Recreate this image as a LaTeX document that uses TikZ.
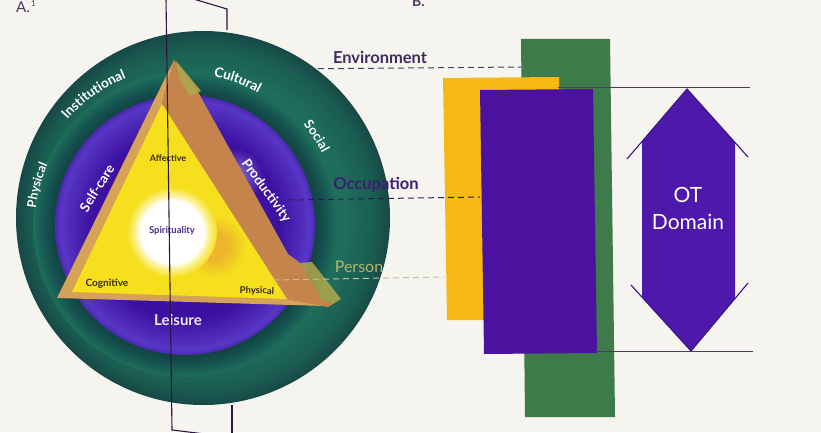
\documentclass[tikz,border=0pt]{standalone}
\usepackage{fontspec}
\newfontfamily\lato{Lato}
\usetikzlibrary{decorations.text}
\definecolor{bg}{HTML}{F5F4EE}
\definecolor{gring}{HTML}{1F6E5B}
\definecolor{gring2}{HTML}{1A5C52}
\definecolor{grim}{HTML}{174845}
\definecolor{gband}{HTML}{124442}
\definecolor{gband2}{HTML}{155250}
\definecolor{pcen}{HTML}{3C10A0}
\definecolor{pedge}{HTML}{5836C6}
\definecolor{pdark}{HTML}{4A28B0}
\definecolor{pglowc}{HTML}{9C88E8}
\definecolor{tanc}{HTML}{D6A258}
\definecolor{barc}{HTML}{C4844C}
\definecolor{olivec}{HTML}{B1A84C}
\definecolor{triyel}{HTML}{F6E01E}
\definecolor{blobc}{HTML}{EDB52C}
\definecolor{rgreen}{HTML}{3E7B4A}
\definecolor{ryellow}{HTML}{F6B914}
\definecolor{rpurple}{HTML}{4B12A0}
\definecolor{apurple}{HTML}{4E18AA}
\definecolor{barbc}{HTML}{3B1585}
\definecolor{cutc}{HTML}{2A1840}
\definecolor{envc}{HTML}{3D3060}
\definecolor{occc}{HTML}{3C1D72}
\definecolor{perc}{HTML}{B4B46C}
\definecolor{perdash}{HTML}{C4C0A2}
\definecolor{tritext}{HTML}{3A2A14}
\definecolor{spirc}{HTML}{4B2A90}
\definecolor{leisc}{HTML}{ECE6FA}
\definecolor{labc}{HTML}{4A3A6A}
\pgfdeclareradialshading{gdisc}{\pgfpoint{0bp}{0bp}}{color(0bp)=(gring); color(19bp)=(gring); color(23bp)=(gring2); color(25bp)=(grim); color(50bp)=(grim)}
\pgfdeclareradialshading{gbandsh}{\pgfpoint{0bp}{0bp}}{color(0bp)=(gband); color(21.5bp)=(gband); color(23bp)=(gband2); color(25bp)=(gring); color(50bp)=(gring)}
\pgfdeclareradialshading{pdisc}{\pgfpoint{0bp}{0bp}}{color(0bp)=(pcen); color(18bp)=(pcen); color(24bp)=(pedge); color(25bp)=(pdark); color(50bp)=(pdark)}
\pgfdeclareradialshading{pglow}{\pgfpoint{0bp}{0bp}}{color(0bp)=(pglowc); color(25bp)=(pcen); color(50bp)=(pcen)}
\pgfdeclareradialshading{spir}{\pgfpoint{0bp}{0bp}}{color(0bp)=(white); color(17.5bp)=(white); color(20bp)=(white!60!triyel); color(25bp)=(triyel); color(50bp)=(triyel)}
\pgfdeclareradialshading{blob}{\pgfpoint{0bp}{0bp}}{color(0bp)=(blobc); color(10bp)=(blobc); color(25bp)=(triyel); color(50bp)=(triyel)}
\tikzset{
  lbl/.style={font=\lato\bfseries\fontsize{#1}{#1}\selectfont, inner sep=0pt},
  arclabel/.style 2 args={decorate, decoration={text along path, text align=center, text color=white, text={|\lato\bfseries\fontsize{#1}{#1}\selectfont|#2}}},
  dashc/.style={dash pattern=on 6pt off 4pt, line width=1pt},
  cutline/.style={draw=cutc, line width=1.1pt},
  hline/.style={draw=cutc!85!white, line width=1pt},
  barb/.style={draw=barbc, line width=1.1pt},
}
\begin{document}
\begin{tikzpicture}[x=1pt,y=1pt]
\useasboundingbox (0,0) rectangle (821,432);
\clip (0,0) rectangle (821,432);
\fill[bg] (0,0) rectangle (821,432);

% ---------- A: circle model ----------
\shade[shading=gdisc] (203,214) circle[radius=187];
\shade[shading=gbandsh] (185,207) circle[radius=152];
\shade[shading=pdisc] (185,207) circle[radius=130];
\begin{scope}
  \clip (185,207) circle[radius=130];
  \shade[shading=pglow, opacity=0.8] (236,256) circle[radius=28];
\end{scope}

% triangle frame
\fill[tanc] (174,372) -- (57,134) -- (325,126) -- (287,133) -- (162,328) -- cycle;
\fill[barc] (174,372) -- (198,340) -- (288,178) -- (300,169) -- (322,132) -- (333,128) -- (328,125) -- (287,133) -- (162,328) -- cycle;
\fill[olivec, opacity=0.9] (176,371) -- (201,341) -- (190,336) -- (180,352) -- cycle;
\fill[olivec, opacity=0.85] (300,169) -- (312,170) -- (341,133) -- (333,128) -- (322,132) -- cycle;
\fill[triyel] (162,328) -- (72,140) -- (287,133) -- cycle;
\begin{scope}
  \clip (162,328) -- (72,140) -- (287,133) -- cycle;
  \shade[shading=blob] (214,186) circle[radius=32];
  \shade[shading=spir] (172,200) circle[radius=45];
\end{scope}

% ring labels
\path[arclabel={13.5}{Institutional}] ([shift={(185,207)}]152:158) arc[start angle=152, end angle=98, radius=158];
\path[arclabel={13.5}{Cultural}] ([shift={(185,207)}]92:151) arc[start angle=92, end angle=48, radius=151];
\path[arclabel={13}{Social}] ([shift={(185,207)}]56:155) arc[start angle=56, end angle=12, radius=155];
\path[arclabel={12.5}{Physical}] ([shift={(185,207)}]190:150) arc[start angle=190, end angle=140, radius=150];

\node[lbl=13.5, text=white, rotate=58] (selfcare) at (97,244) {Self-care};
\node[lbl=13.5, text=white, rotate=-54] (productivity) at (266,241) {Productivity};
\node[lbl=15, text=leisc] (leisure) at (178,112) {Leisure};
\node[lbl=9, text=tritext] (affective) at (168,274) {Affective};
\node[lbl=9.5, text=spirc] (spirituality) at (172,201) {Spirituality};
\node[lbl=10, text=tritext] (cognitive) at (107,148) {Cognitive};
\node[lbl=9.5, text=tritext, rotate=-2] (physicalp) at (257,141) {Physical};

% cutting plane lines
\coordinate (cutT) at (166,434);
\coordinate (cutB) at (172,2);
\coordinate (cutBR) at (205,-2);
\coordinate (topA) at (190,434);
\coordinate (topB) at (227,423);
\coordinate (topC) at (227,402);
\coordinate (botA) at (232,27);
\coordinate (botB) at (232,-2);
\draw[cutline] (cutT) -- (cutB) -- (cutBR);
\draw[cutline] (topA) -- (topB) -- (topC);
\draw[cutline] (botA) -- (botB);

% ---------- B: layered rectangles ----------
\fill[rgreen] (521,393) -- (610,393) -- (615,15) -- (525,15) -- cycle;
\fill[ryellow] (443,354) -- (559,355) -- (561,112) -- (447,112) -- cycle;
\fill[rpurple] (480,342) -- (593,343) -- (597,79) -- (484,78) -- cycle;

\coordinate (tl) at (558,344);
\coordinate (tr) at (750,344);
\coordinate (bl) at (595,81);
\coordinate (br) at (753,81);
\draw[hline] (tl) -- (tr);
\draw[hline] (bl) -- (br);

% double arrow
\fill[apurple] (687,343) -- (642,290.5) -- (642,135) -- (691,81) -- (735,133.5) -- (735,289.5) -- cycle;
\coordinate (atip) at (687,343);
\coordinate (abl) at (627,273);
\coordinate (abr) at (748,275);
\coordinate (btip) at (691,81);
\coordinate (bbl) at (631,147);
\coordinate (bbr) at (748,149);
\draw[barb] (abl) -- (atip) -- (abr);
\draw[barb] (bbl) -- (btip) -- (bbr);
\node[font=\lato\fontsize{21}{21}\selectfont, text=white, inner sep=0pt] (ot) at (688,237) {OT};
\node[font=\lato\fontsize{21}{21}\selectfont, text=white, inner sep=0pt] (domain) at (688,210) {Domain};

% labels and dashed connectors
\node[lbl=16.5, text=envc] (environment) at (380,375) {Environment};
\node[lbl=16.5, text=occc] (occupation) at (376,247) {Occupation};
\node[font=\lato\fontsize{16}{16}\selectfont, text=perc, inner sep=0pt] (person) at (359,165) {Person};
\coordinate (envL) at (288,363);
\coordinate (envR) at (521,365);
\coordinate (occL) at (288,232);
\coordinate (occR) at (480,235);
\coordinate (perL) at (273,152);
\coordinate (perR) at (444,155);
\draw[dashc, draw=envc!80!gray] (envL) -- (envR);
\draw[dashc, draw=occc!80!black] (occL) -- (occR);
\draw[dashc, draw=perdash] (perL) -- (perR);

% panel letters
\node[font=\lato\fontsize{15}{15}\selectfont, text=labc, anchor=base west, inner sep=0pt] (la) at (16,419) {A.};
\node[font=\lato\fontsize{8}{8}\selectfont, text=labc, anchor=base west, inner sep=0pt] (la1) at (31,425) {1};
\node[font=\lato\bfseries\fontsize{14}{14}\selectfont, text=labc, anchor=base west, inner sep=0pt] (lb) at (412,425) {B.};
\end{tikzpicture}
\end{document}
